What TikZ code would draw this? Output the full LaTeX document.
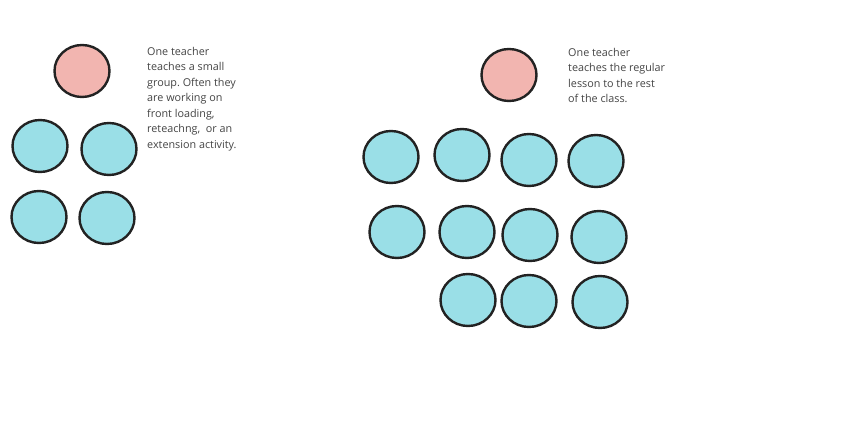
\documentclass[tikz,border=0pt]{standalone}
\usepackage{fontspec}
\setmainfont{Open Sans}
\usetikzlibrary{shapes.geometric}
\definecolor{pinkc}{HTML}{F2B5B0}
\definecolor{bluec}{HTML}{9ADFE7}
\definecolor{edgec}{HTML}{222222}
\definecolor{textc}{HTML}{444444}
\frenchspacing
\begin{document}
\begin{tikzpicture}[x=1pt,y=-1pt,
  person/.style={ellipse,draw=edgec,line width=2.4pt,minimum width=55pt,minimum height=52pt,inner sep=0pt},
  teacher/.style={person,fill=pinkc},
  student/.style={person,fill=bluec},
  note/.style={rectangle,anchor=north west,align=left,text=textc,font=\fontsize{10.8}{15.5}\selectfont,inner sep=0pt}]
\useasboundingbox (0,0) rectangle (845,443);
\fill[white] (0,0) rectangle (845,443);
\node[teacher] (t1) at (82,71) {};
\node[student] (s1) at (40,146) {};
\node[student] (s2) at (109,149) {};
\node[student] (s3) at (39,217) {};
\node[student] (s4) at (107,218) {};
\node[note] (n1) at (147,47) {One teacher\\teaches a small\\group. Often they\\are working on\\front loading,\\reteachng,~ or an\\extension activity.};
\node[teacher] (t2) at (509,75) {};
\node[student] (r1) at (391,157) {};
\node[student] (r2) at (462,155) {};
\node[student] (r3) at (529,160) {};
\node[student] (r4) at (596,161) {};
\node[student] (r5) at (397,232) {};
\node[student] (r6) at (467,232) {};
\node[student] (r7) at (530,235) {};
\node[student] (r8) at (599,237) {};
\node[student] (r9) at (468,300) {};
\node[student] (r10) at (529,301) {};
\node[student] (r11) at (600,302) {};
\node[note] (n2) at (568,48) {One teacher\\teaches the regular\\lesson to the rest\\of the class.};
\end{tikzpicture}
\end{document}
